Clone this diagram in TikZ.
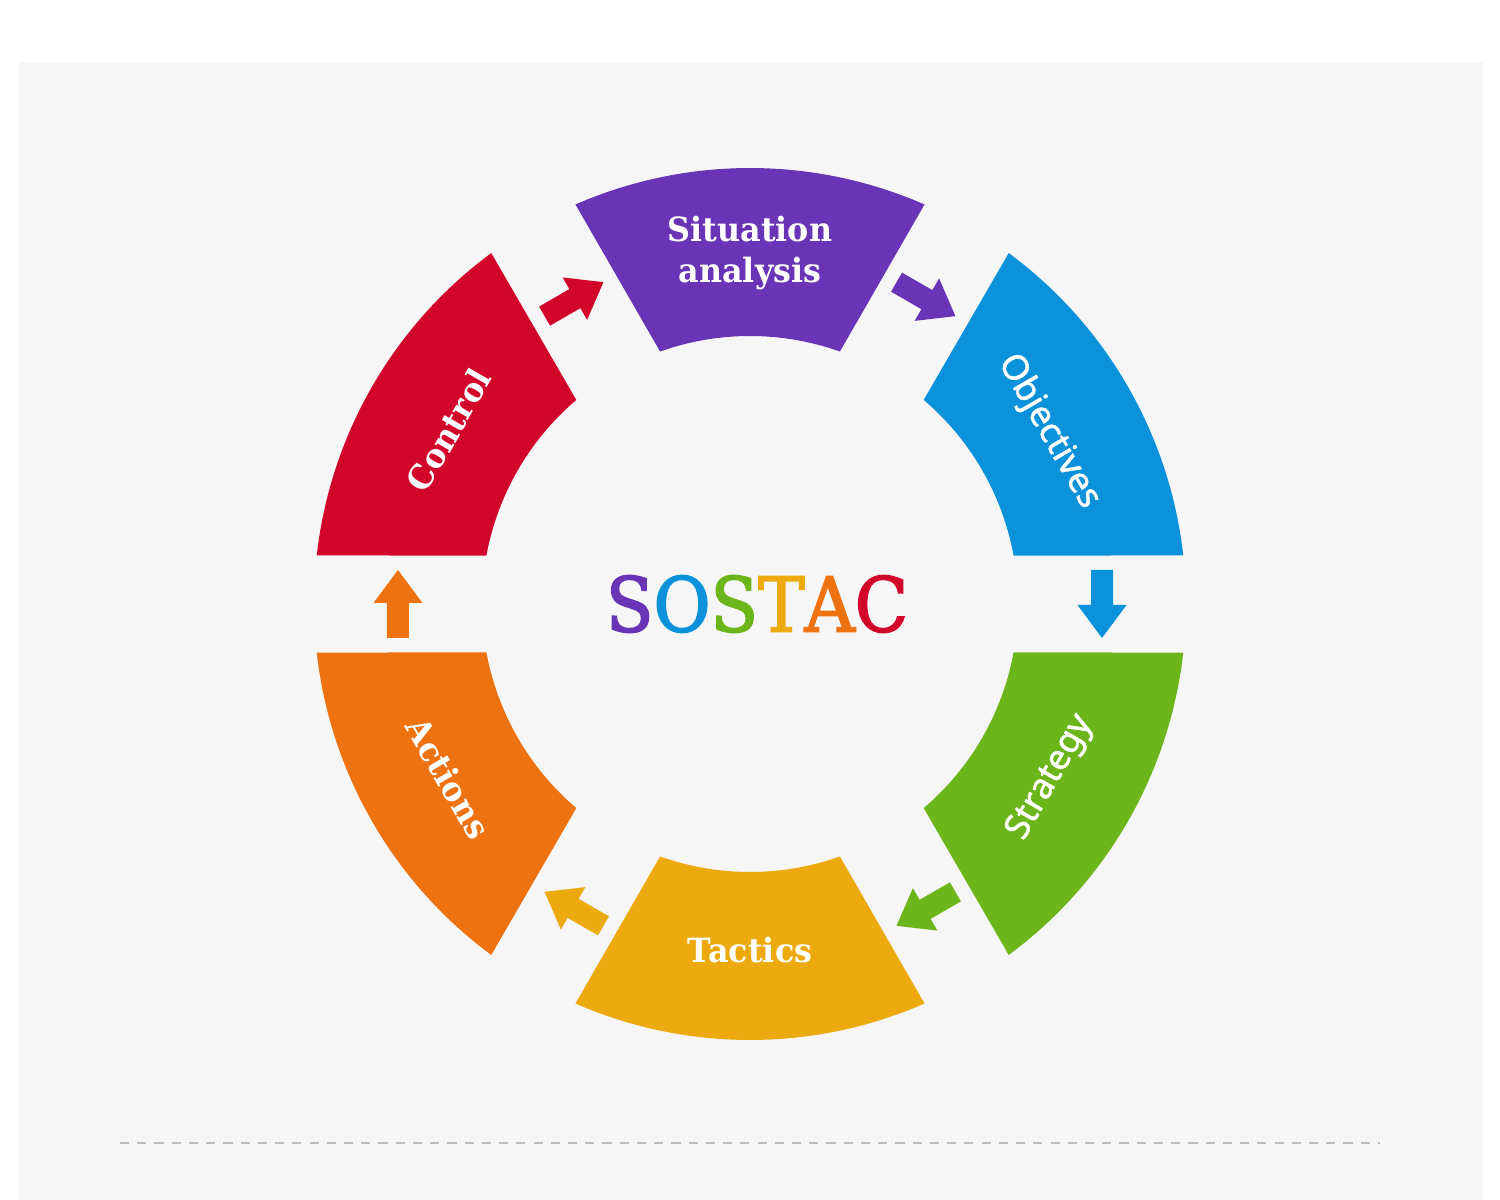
\documentclass[tikz,border=0pt]{standalone}
\usepackage{fontspec}
\setmainfont{DejaVu Serif}
\newfontface\slabface{DejaVu Serif Bold}[FakeStretch=0.95]
\newfontface\labelsans{Noto Sans}[FakeBold=1.4]
\newfontface\titleface{DejaVu Serif}[FakeBold=2.2, FakeStretch=0.92]
\usetikzlibrary{calc}
\definecolor{sitpurple}{RGB}{105,52,181}
\definecolor{objblue}{RGB}{12,146,219}
\definecolor{stratgreen}{RGB}{108,181,26}
\definecolor{tacyellow}{RGB}{236,170,14}
\definecolor{actorange}{RGB}{238,114,16}
\definecolor{ctrlred}{RGB}{210,6,43}
\definecolor{bggrey}{RGB}{246,246,246}
\definecolor{dashgrey}{RGB}{190,190,190}
\def\ringpart[#1](#2){\fill[#1] ({#2-23.6}:436) arc ({#2-23.6}:{#2+23.6}:436) -- ({#2+19.6}:268) arc ({#2+19.6}:{#2-19.6}:268) -- cycle;}
\def\gaparrow[#1](#2){\fill[#1, shift={(#2:352)}, rotate=#2-90] (-34, -11) -- (1, -11) -- (1, -24.5) -- (34, 0) -- (1, 24.5) -- (1, 11) -- (-34, 11) -- cycle;}
\tikzset{steplabel/.style={text=white, font=\slabface\fontsize{9.5}{11.7}\selectfont, align=center}}

\begin{document}
\begin{tikzpicture}[x=0.01cm, y=0.01cm]
		%%%%% START %%%%%
		
		\useasboundingbox (-750, -596) rectangle (750, 604);
		\fill[color=bggrey] (-731, -596) rectangle (733, 542);
		\draw[line width=0.6pt, color=dashgrey, dash pattern=on 2.6pt off 2.3pt] (-630, -539) -- (630, -539);
		
		\ringpart[color=sitpurple](90)
		\ringpart[color=objblue](30)
		\ringpart[color=stratgreen](-30)
		\ringpart[color=tacyellow](-90)
		\ringpart[color=actorange](-150)
		\ringpart[color=ctrlred](150)
		
		\gaparrow[color=sitpurple](60)
		\gaparrow[color=objblue](0)
		\gaparrow[color=stratgreen](-60)
		\gaparrow[color=tacyellow](-120)
		\gaparrow[color=actorange](180)
		\gaparrow[color=ctrlred](120)
		
		\node[steplabel] (sit) at (90:351) {Situation\\analysis};
		\node[steplabel, font=\labelsans\fontsize{10}{12}\selectfont, rotate=-60] (obj) at (30:345) {Objectives};
		\node[steplabel, font=\labelsans\fontsize{10}{12}\selectfont, rotate=60] (strat) at (-30:347) {Strategy};
		\node[steplabel] (tac) at (-90:346) {Tactics};
		\node[steplabel, rotate=-60] (act) at (-150:348) {Actions};
		\node[steplabel, rotate=60] (ctrl) at (150:348) {Control};
		
		\node[font=\titleface\fontsize{21.5}{24}\selectfont] (sostac) at (7, 0) {\textcolor{sitpurple}{S}\textcolor{objblue}{O}\textcolor{stratgreen}{S}\textcolor{tacyellow}{T}\textcolor{actorange}{A}\textcolor{ctrlred}{C}};
		
		%%%%% END %%%%%
\end{tikzpicture}
\end{document}
